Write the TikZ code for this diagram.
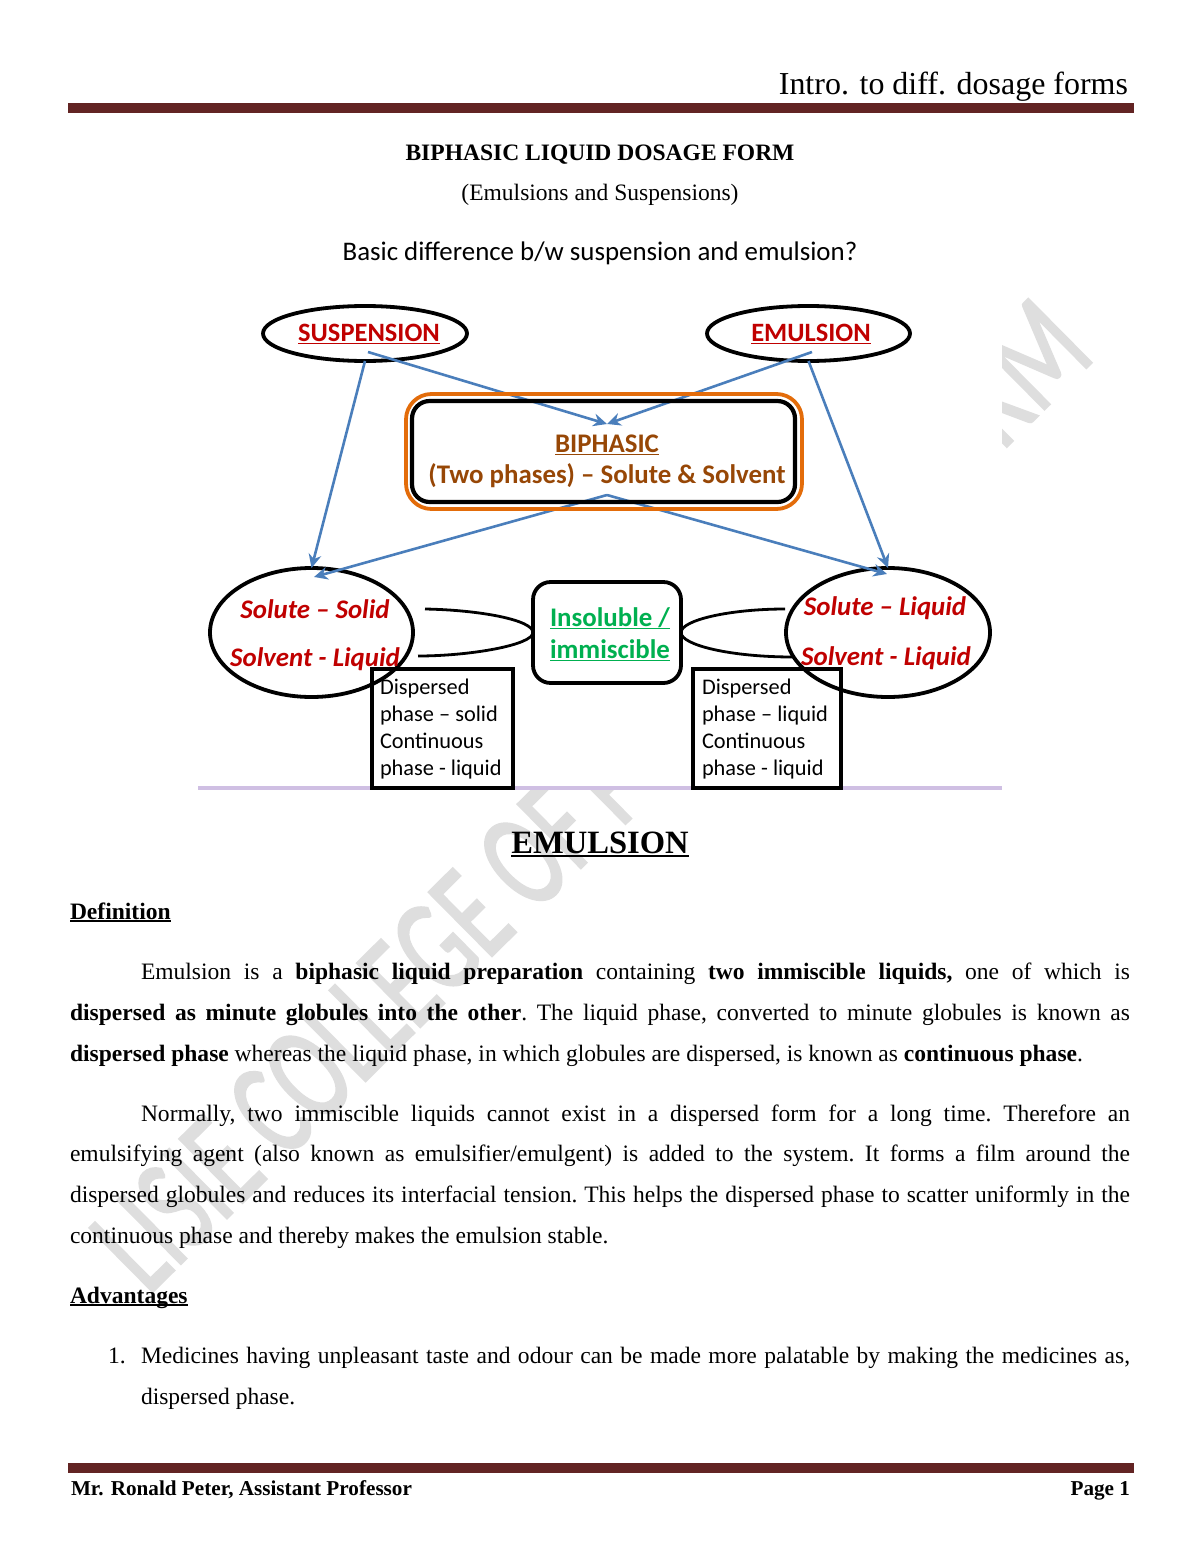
\documentclass[tikz,border=0pt]{standalone}
\usepackage{graphicx}
\usepackage{fontspec}
\setmainfont{Liberation Serif}
\newfontfamily\cbri{Carlito}
\newfontfamily\wmfont[FakeBold=2]{Carlito}
\usetikzlibrary{shapes.geometric,arrows.meta}
\definecolor{rulered}{HTML}{622423}
\definecolor{arrowblue}{HTML}{4A7EBB}
\definecolor{headred}{HTML}{C00000}
\definecolor{brownish}{HTML}{974706}
\definecolor{orangeline}{HTML}{E36C0A}
\definecolor{greenish}{HTML}{00B050}
\definecolor{lilac}{HTML}{CFBFE3}
\definecolor{wmark}{HTML}{DEDEDE}
\newdimen\px \px=0.51pt
\def\myul#1{\leavevmode\setbox0\hbox{#1}\rlap{\rule[-.13em]{\wd0}{.07em}}\box0}
\newcommand\jl[2]{\makebox[#1\px][s]{#2}}
\tikzset{
  txt/.style={inner sep=0,outer sep=0,anchor=base west},
  ctxt/.style={inner sep=0,outer sep=0,anchor=base},
  body/.style={txt,font=\frenchspacing\fontsize{12}{14}\selectfont},
  oval/.style={ellipse,draw=black,line width=3.8\px,inner sep=0,outer sep=0},
  conn/.style={draw=arrowblue,line width=2.6\px,-{Stealth[length=7pt,width=6.5pt]}},
  lab/.style={ctxt,font=\cbri\bfseries\fontsize{13.7}{16}\selectfont},
  ital/.style={ctxt,font=\cbri\bfseries\itshape\fontsize{13.7}{16}\selectfont,text=headred},
  disp/.style={txt,font=\cbri\fontsize{11.4}{13}\selectfont},
  dbox/.style={draw=black,line width=3.8\px,inner sep=0,outer sep=0},
  wm/.style={inner sep=0,outer sep=0,text=wmark,font=\wmfont\fontsize{71}{71}\selectfont,rotate=44.7}
}
\begin{document}
\begin{tikzpicture}[x=0.51pt,y=-0.51pt]
\useasboundingbox (0,0) rectangle (1200,1553);
\fill[white] (0,0) rectangle (1200,1553);
% watermark
\node[wm,anchor=base west] (wmA) at (148,1296) {\scalebox{0.655}[1]{LISIE COLLEGE OF P}};
\node[wm,anchor=base east] (wmB) at (1097,357) {\scalebox{0.69}[1]{RM}};
\fill[white] (198,285) rectangle (1002,790);
% header
\node[txt,anchor=base east,font=\fontsize{16.3}{18}\selectfont] (hdr) at (1128,95) {Intro. to diff. dosage forms};
\fill[rulered] (68,103) rectangle (1134,113);
\node[ctxt,font=\bfseries\fontsize{12}{14}\selectfont] (title) at (600,161) {BIPHASIC LIQUID DOSAGE FORM};
\node[ctxt,font=\fontsize{12}{14}\selectfont] (subtitle) at (600,201) {(Emulsions and Suspensions)};
\node[ctxt,font=\cbri\fontsize{13.7}{16}\selectfont] (question) at (600,260) {Basic difference b/w suspension and emulsion?};
% diagram
\draw[lilac,line width=4\px] (198,788) -- (1002,788);
\node[oval,minimum width=204\px,minimum height=55\px] (susp) at (365,333.5) {};
\node[oval,minimum width=203\px,minimum height=55\px] (emul) at (808.5,333.5) {};
\node[oval,minimum width=203\px,minimum height=129\px] (solid) at (311.5,632.5) {};
\node[oval,minimum width=204\px,minimum height=129\px] (liquid) at (888,632.5) {};
% connector end points
\coordinate (sOut) at (368,352);
\coordinate (eOut) at (812,352);
\coordinate (biTop) at (607,424);
\coordinate (biBot) at (607,495);
\coordinate (solTip) at (314,577);
\coordinate (liqTip) at (887,574);
\coordinate (braceLa) at (425,609);
\coordinate (braceLb) at (418,656);
\coordinate (braceRa) at (785,609);
\coordinate (braceRb) at (793,657);
% arrows (they pass behind the biphasic frames)
\draw[conn] (susp.south) -- (solid.north);
\draw[conn] (emul.south) -- (liquid.north);
\draw[conn] (sOut) -- (biTop);
\draw[conn] (eOut) -- (biTop);
\draw[conn] (biBot) -- (solTip);
\draw[conn] (biBot) -- (liqTip);
\node[draw=orangeline,line width=3.8\px,rounded corners=13pt,minimum width=396\px,minimum height=115\px,inner sep=0,outer sep=0] (biOuter) at (604,451.5) {};
\node[draw=black,line width=4.2\px,rounded corners=9pt,minimum width=383\px,minimum height=101\px,inner sep=0,outer sep=0] (biInner) at (603.5,451.5) {};
\node[draw=black,line width=3.8\px,rounded corners=9pt,minimum width=148\px,minimum height=101\px,inner sep=0,outer sep=0] (insol) at (607,632.5) {};
\node[dbox,minimum width=141\px,minimum height=119\px] (boxL) at (442.5,728.5) {};
\node[dbox,minimum width=148\px,minimum height=119\px] (boxR) at (767,728.5) {};
% labels
\node[lab,text=headred,font=\cbri\bfseries\fontsize{13.5}{16}\selectfont] (tSusp) at (369,341) {\myul{SUSPENSION}};
\node[lab,text=headred,font=\cbri\bfseries\fontsize{13.5}{16}\selectfont] (tEmul) at (811,341) {\myul{EMULSION}};
\node[lab,text=brownish] (tBi1) at (607,452) {\myul{BIPHASIC}};
\node[lab,text=brownish] (tBi2) at (607,483) {(Two phases) – Solute \& Solvent};
\node[lab,text=greenish] (tIn1) at (610,626) {\myul{Insoluble /}};
\node[lab,text=greenish] (tIn2) at (610,658) {\myul{immiscible}};
\node[ital] (tS1) at (315,618) {Solute – Solid};
\node[ital] (tS2) at (315,666) {Solvent - Liquid};
\node[ital] (tL1) at (885,615) {Solute – Liquid};
\node[ital] (tL2) at (886,665) {Solvent - Liquid};
\node[disp] (dL1) at (380,694) {Dispersed};
\node[disp] (dL2) at (380,721) {phase – solid};
\node[disp] (dL3) at (380,748) {Continuous};
\node[disp] (dL4) at (380,775) {phase - liquid};
\node[disp] (dR1) at (702,694) {Dispersed};
\node[disp] (dR2) at (702,721) {phase – liquid};
\node[disp] (dR3) at (702,748) {Continuous};
\node[disp] (dR4) at (702,775) {phase - liquid};
% curved links
\draw[black,line width=2.8\px] (braceLa) .. controls (480,610) and (533,620) .. (insol.west) .. controls (533,645) and (470,656) .. (braceLb);
\draw[black,line width=2.8\px] (braceRa) .. controls (730,609) and (681,620) .. (insol.east) .. controls (681,645) and (730,657) .. (braceRb);
% body
\node[ctxt,font=\bfseries\fontsize{16.6}{18}\selectfont] (emhead) at (600,853) {\myul{EMULSION}};
\node[body,font=\bfseries\fontsize{12}{14}\selectfont] (defh) at (70,919) {\myul{Definition}};
\node[body] (p1) at (141,979) {\jl{989}{Emulsion is a \textbf{biphasic liquid preparation} containing \textbf{two immiscible liquids,} one of which is}};
\node[body] (p2) at (70,1020) {\jl{1060}{\textbf{dispersed as minute globules into the other}. The liquid phase, converted to minute globules is known as}};
\node[body] (p3) at (70,1061) {\textbf{dispersed phase} whereas the liquid phase, in which globules are dispersed, is known as \textbf{continuous phase}.};
\node[body] (q1) at (141,1121) {\jl{989}{Normally, two immiscible liquids cannot exist in a dispersed form for a long time. Therefore an}};
\node[body] (q2) at (70,1161) {\jl{1060}{emulsifying agent (also known as emulsifier/emulgent) is added to the system. It forms a film around the}};
\node[body] (q3) at (70,1202) {\jl{1060}{dispersed globules and reduces its interfacial tension. This helps the dispersed phase to scatter uniformly in the}};
\node[body] (q4) at (70,1243) {continuous phase and thereby makes the emulsion stable.};
\node[body,font=\bfseries\fontsize{12}{14}\selectfont] (advh) at (70,1303) {\myul{Advantages}};
\node[body] (n1) at (108,1363) {1.};
\node[body] (a1) at (141,1363) {\jl{989}{Medicines having unpleasant taste and odour can be made more palatable by making the medicines as,}};
\node[body] (a2) at (141,1404) {dispersed phase.};
% footer
\fill[rulered] (68,1463) rectangle (1134,1473);
\node[txt,font=\bfseries\fontsize{10.8}{12}\selectfont] (foot) at (71,1495) {Mr. Ronald Peter, Assistant Professor};
\node[txt,anchor=base east,font=\bfseries\fontsize{10.8}{12}\selectfont] (page) at (1130,1495) {Page 1};
\end{tikzpicture}
\end{document}
